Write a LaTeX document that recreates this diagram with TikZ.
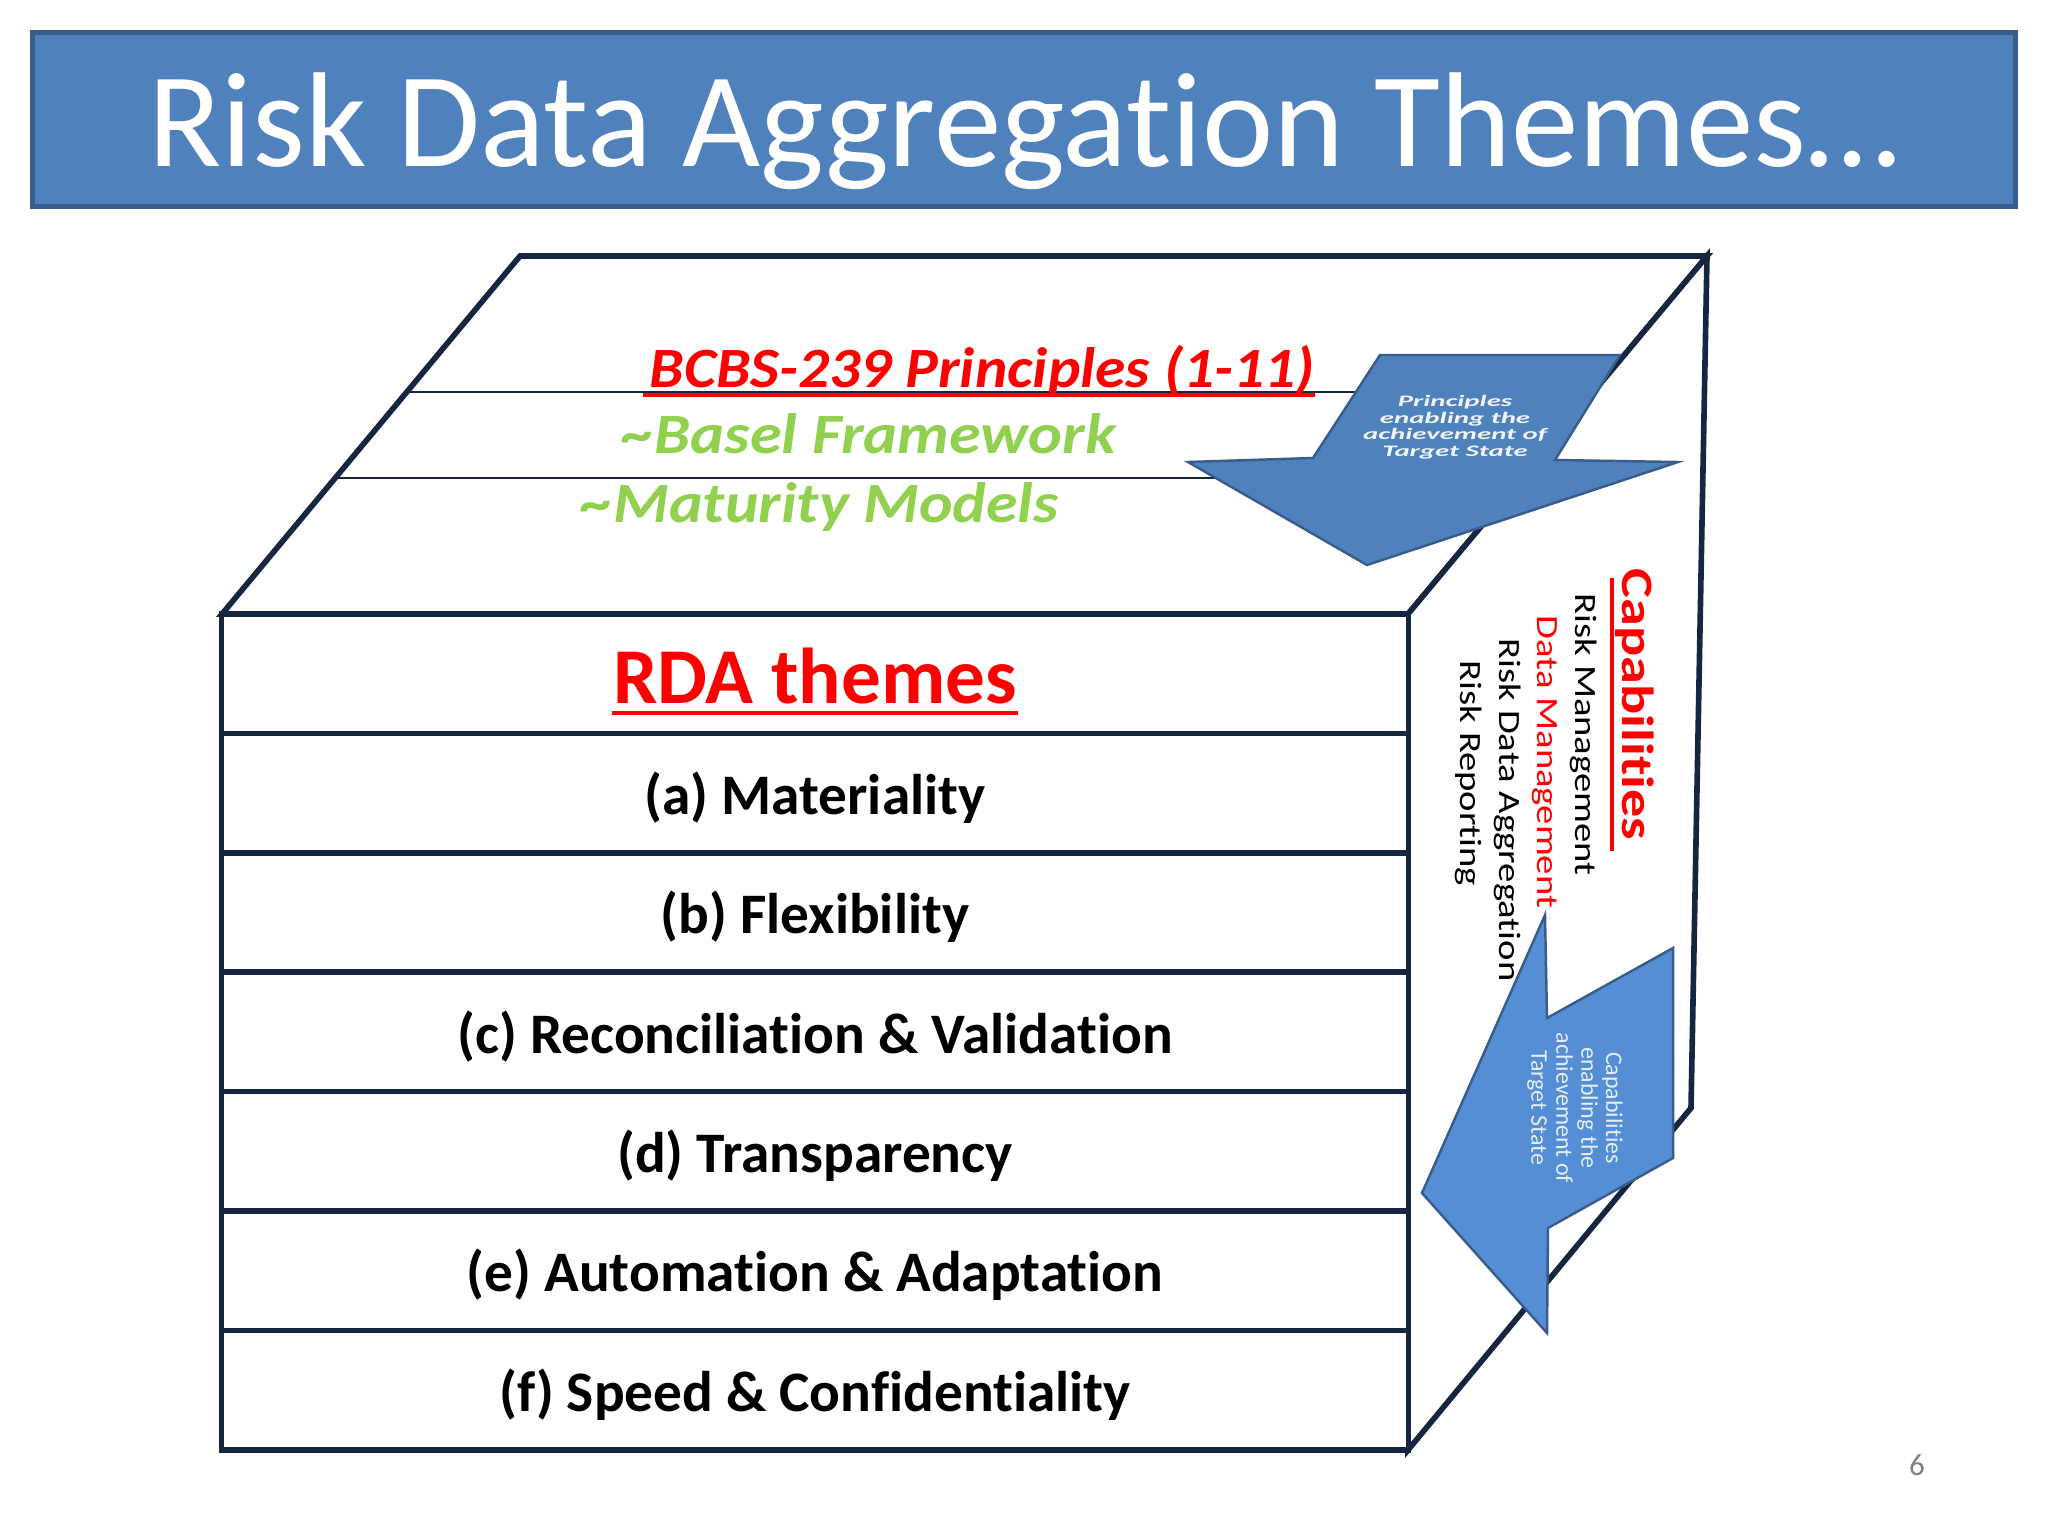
\documentclass[tikz,border=0pt]{standalone}
\usepackage{fontspec}
\setmainfont{Carlito}[Ligatures={NoCommon}]
\usetikzlibrary{calc}
\definecolor{navy}{RGB}{23,38,64}
\definecolor{barblue}{RGB}{79,129,189}
\definecolor{baredge}{RGB}{56,93,138}
\definecolor{arrowtop}{RGB}{79,129,189}
\definecolor{arrowbot}{RGB}{85,142,213}
\definecolor{rdred}{RGB}{255,0,0}
\definecolor{lgreen}{RGB}{146,208,80}
\definecolor{pgray}{RGB}{128,128,128}
\tikzset{
  edgeline/.style={draw=navy, line width=1.6pt, line join=miter},
  thinline/.style={draw=navy, line width=0.6pt},
  rowbox/.style={draw=navy, line width=1.6pt, fill=white, minimum width=11.86cm, minimum height=1.194cm, inner sep=0pt},
  rowtext/.style={anchor=base, inner sep=0pt, font=\fontsize{16.3}{19}\selectfont\bfseries},
  toptext/.style={anchor=base west, inner sep=0pt, font=\fontsize{16.2}{18}\selectfont\bfseries\itshape},
  sidetext/.style={rotate=-90, anchor=base west, inner sep=0pt, font=\fontsize{8.8}{10}\selectfont},
  bigarrow/.style={draw=baredge, line width=0.7pt, line join=miter},
}
\begin{document}
\begin{tikzpicture}[x=0.01cm,y=-0.01cm]
\useasboundingbox (0,0) rectangle (2048,1536);
\fill[white] (0,0) rectangle (2048,1536);

% title bar
\node[draw=baredge, fill=barblue, line width=1.4pt, minimum width=19.82cm, minimum height=1.73cm, inner sep=0pt] (bar) at (1024,119.5) {};
\node[anchor=base, inner sep=0pt, text=white, font=\fontsize{38.4}{44}\selectfont] (title) at (1024,166) {Risk Data Aggregation Themes…};

% cube corners
\coordinate (btl) at (520,256);
\coordinate (btr) at (1707,256);
\coordinate (ftl) at (222,614);
\coordinate (ftr) at (1408,614);
\coordinate (fbr) at (1408,1450);
\coordinate (bbr) at (1691,1108);

% top face
\filldraw[fill=white, edgeline] (btl) -- (btr) -- (ftr) -- (ftl) -- cycle;
\coordinate (l1a) at (407,392); \coordinate (l1b) at (1594,392);
\coordinate (l2a) at (335,478); \coordinate (l2b) at (1522,478);
\draw[thinline] (l1a) -- (l1b);
\draw[thinline] (l2a) -- (l2b);

% right face
\filldraw[fill=white, edgeline] (btr) -- (bbr) -- (fbr) -- (ftr) -- cycle;

% right face text
\node[sidetext, text=rdred, font=\fontsize{12.8}{14}\selectfont\bfseries] (cap) at (1622,568) {\scalebox{1.25}[1]{Capabilities}};
\draw[rdred, line width=1.1pt] ($(cap.base west)+(-10,10)$) -- ($(cap.base east)+(-10,10)$);
\node[sidetext] (rm) at (1575,593) {\scalebox{1.25}[1]{Risk Management}};
\node[sidetext, text=rdred] (dm) at (1537,615) {\scalebox{1.25}[1]{Data Management}};
\node[sidetext] (rda) at (1499,638) {\scalebox{1.25}[1]{Risk Data Aggregation}};
\node[sidetext] (rr) at (1460,660) {\scalebox{1.25}[1]{Risk Reporting}};

% front face rows
\node[rowbox] (r0) at (815,673.7) {};
\node[rowbox] (r1) at (815,793.1) {};
\node[rowbox] (r2) at (815,912.6) {};
\node[rowbox] (r3) at (815,1032) {};
\node[rowbox] (r4) at (815,1151.4) {};
\node[rowbox] (r5) at (815,1270.9) {};
\node[rowbox] (r6) at (815,1390.3) {};
\node[rowtext] (t1) at ($(r1.center)+(0,21)$) {(a) Materiality};
\node[rowtext] (t2) at ($(r2.center)+(0,21)$) {(b) Flexibility};
\node[rowtext] (t3) at ($(r3.center)+(0,21)$) {(c) Reconciliation \& Validation};
\node[rowtext] (t4) at ($(r4.center)+(0,21)$) {(d) Transparency};
\node[rowtext] (t5) at ($(r5.center)+(0,21)$) {(e) Automation \& Adaptation};
\node[rowtext] (t6) at ($(r6.center)+(0,21)$) {(f) Speed \& Confidentiality};
\node[anchor=base, inner sep=0pt, text=rdred, font=\fontsize{22.5}{26}\selectfont\bfseries] (rdat) at (815,703) {RDA themes};
\draw[rdred, line width=1.4pt] ($(rdat.base west)+(0,10)$) -- ($(rdat.base east)+(0,10)$);

% top face texts
\node[toptext, text=rdred] (bcbs) at (649,387) {\scalebox{1.08}[1]{BCBS-239 Principles (1-11)}};
\draw[rdred, line width=1.2pt] ($(bcbs.base west)+(-6,8)$) -- ($(bcbs.base east)+(0,8)$);
\node[toptext, text=lgreen] (basel) at (622,453) {\scalebox{1.13}[1]{\textasciitilde Basel Framework}};
\node[toptext, text=lgreen] (matur) at (581,522) {\scalebox{1.12}[1]{\textasciitilde Maturity Models}};

% top arrow
\filldraw[fill=arrowtop, bigarrow] (1380,355) -- (1620,355) -- (1555,460) -- (1678,462) -- (1367,565) -- (1188,462) -- (1313,458) -- cycle;
\node[inner sep=0pt, text=white!92!barblue, font=\fontsize{4.55}{4.7}\selectfont\bfseries\itshape] (parrow) at (1455,428)
  {\scalebox{1.8}[1]{\begin{tabular}{@{}c@{}}Principles\\enabling the\\achievement of\\Target State\end{tabular}}};

% bottom arrow
\filldraw[fill=arrowbot, bigarrow] (1545,915) -- (1547,1018) -- (1673,948) -- (1673,1158) -- (1548,1228) -- (1547,1333) -- (1422,1193) -- cycle;
\node[rotate=-90, align=center, inner sep=0pt, text=white!85!arrowbot, font=\fontsize{6.8}{7.1}\selectfont] (carrow) at (1575,1108)
  {Capabilities\\enabling the\\achievement of\\Target State};

% page number
\node[inner sep=0pt, text=pgray, font=\fontsize{8.8}{10}\selectfont] (pnum) at (1917,1465) {6};
\end{tikzpicture}
\end{document}
